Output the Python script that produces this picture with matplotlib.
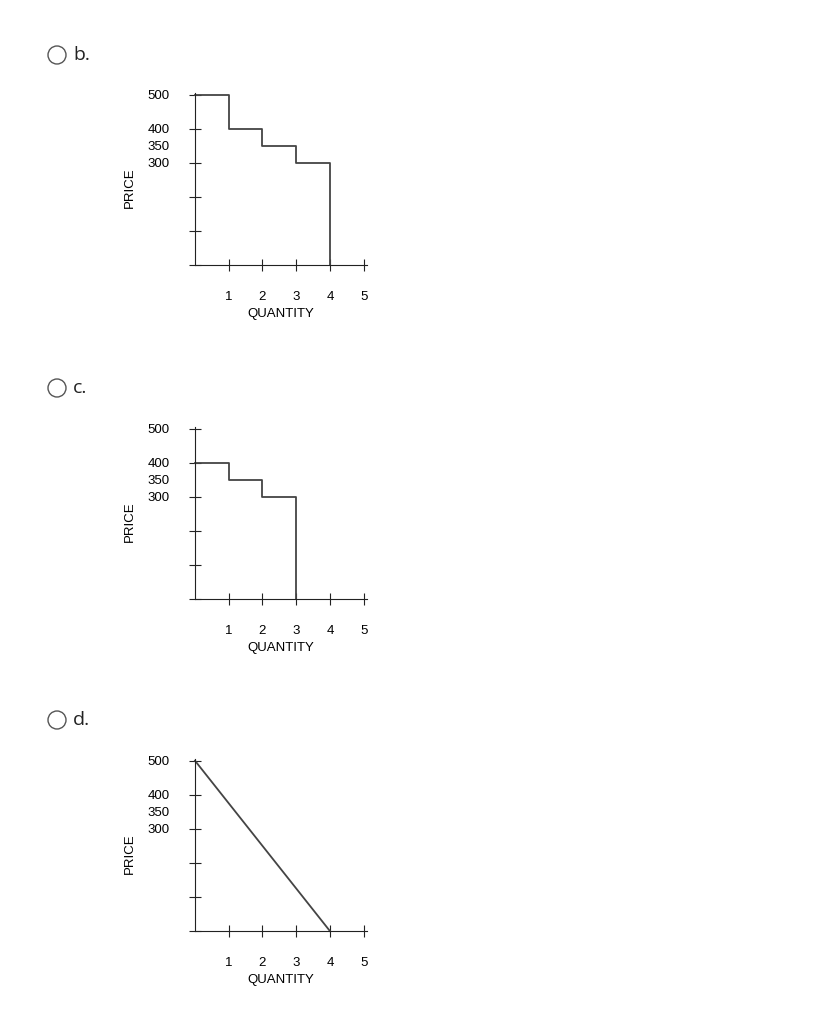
import matplotlib
matplotlib.use("Agg")
import matplotlib.pyplot as plt
from matplotlib.patches import Circle

options = ["b.", "c.", "d."]
qty_b = [0, 1, 1, 2, 2, 3, 3, 4, 4]
price_b = [500, 500, 400, 400, 350, 350, 300, 300, 0]
qty_c = [0, 1, 1, 2, 2, 3, 3]
price_c = [400, 400, 350, 350, 300, 300, 0]
qty_d = [0, 4]
price_d = [500, 0]
series = [(qty_b, price_b), (qty_c, price_c), (qty_d, price_d)]
yticks = [0, 100, 200, 300, 350, 400, 500]
ylabels = ["", "", "", "300", "350", "400", "500"]
xticks = [1, 2, 3, 4, 5]

plt.rcParams['font.family'] = ['Liberation Sans', 'DejaVu Sans']
fig = plt.figure(figsize=(8.25, 10.24), dpi=100)
W, H = 825, 1024
tops = [95, 429, 761]
radio_y = [55, 388, 720]
for opt, (q, p), top, ry in zip(options, series, tops, radio_y):
    c = Circle((57 / 100, (H - ry) / 100), 0.09, transform=fig.dpi_scale_trans,
               fill=False, ec="#555555", lw=1)
    fig.patches.append(c)
    fig.text(73 / W, 1 - ry / H, opt, fontsize=14, va="center", ha="left",
             family=["Open Sans", "DejaVu Sans"], color="#222222")
    ax = fig.add_axes([195 / W, 1 - (top + 170) / H, 172 / W, 172 / H])
    ax.plot(q, p, color="#444444", lw=1.3, clip_on=False)
    ax.set_xlim(0, 5.1)
    ax.set_ylim(0, 505)
    for s in ["top", "right"]:
        ax.spines[s].set_visible(False)
    for s in ["left", "bottom"]:
        ax.spines[s].set_color("#222222")
    ax.set_yticks(yticks)
    ax.set_yticklabels(ylabels)
    ax.set_xticks(xticks)
    ax.set_xticklabels([str(x) for x in xticks])
    ax.tick_params(axis="y", direction="inout", length=8, pad=14, labelsize=9.5, color="#222222")
    ax.tick_params(axis="x", direction="inout", length=8, pad=15, labelsize=9.5, color="#222222")
    for t in ax.yaxis.get_major_ticks():
        if t.label1.get_text() == "350":
            t.tick1line.set_visible(False)
    ax.text(-0.38, 0.45, "PRICE", transform=ax.transAxes, rotation=90,
            fontsize=9.5, ha="center", va="center")
    ax.set_xlabel("QUANTITY", fontsize=9.5, labelpad=3)
    ax.patch.set_alpha(0)

fig.savefig("out.png", dpi=100)
